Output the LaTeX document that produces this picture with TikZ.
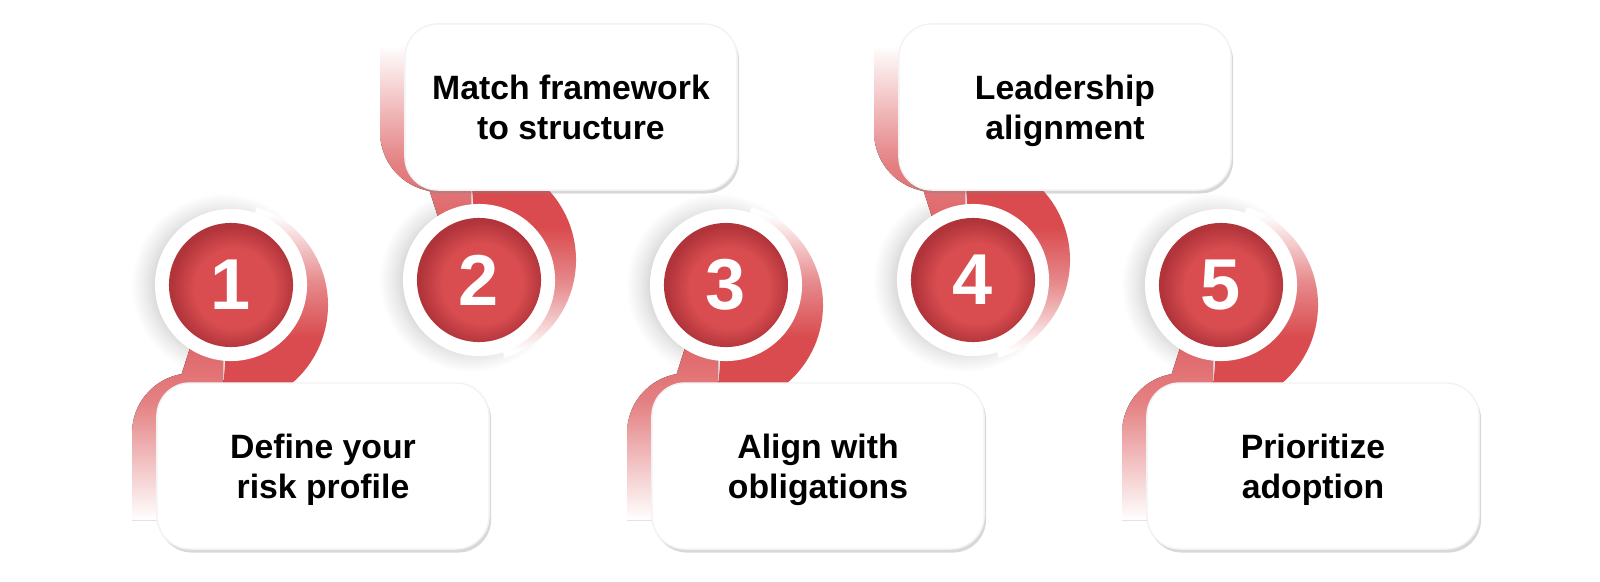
\documentclass[tikz,border=0pt]{standalone}
\usepackage{fontspec}
\setmainfont{Liberation Sans}
\usetikzlibrary{shadows}
\definecolor{ribred}{RGB}{217,75,78}
\definecolor{discred}{RGB}{217,77,80}
\definecolor{discdark}{RGB}{176,52,58}
\pgfdeclareradialshading{numdisc}{\pgfpoint{2bp}{-2bp}}{color(0bp)=(discred); color(16bp)=(discred); color(25bp)=(discdark); color(50bp)=(discdark)}
\pgfdeclareradialshading{ringhaze}{\pgfpoint{0bp}{0bp}}{color(0bp)=(black!16); color(18bp)=(black!16); color(21bp)=(black!8); color(25bp)=(white); color(50bp)=(white)}
\pgfdeclareverticalshading{arcup}{100bp}{color(0bp)=(ribred); color(40bp)=(ribred); color(55bp)=(ribred!65); color(65bp)=(ribred!30); color(73bp)=(white); color(100bp)=(white)}
\pgfdeclareverticalshading{arcdown}{100bp}{color(0bp)=(white); color(27bp)=(white); color(35bp)=(ribred!30); color(45bp)=(ribred!65); color(60bp)=(ribred); color(100bp)=(ribred)}

\begin{document}
\begin{tikzpicture}[x=0.01cm,y=0.01cm,
  ring/.style={circle,fill=white,minimum size=1.52cm,inner sep=0pt},
  disc/.style={circle,shade,shading=numdisc,minimum size=1.24cm,inner sep=0pt,text=white,font=\bfseries\fontsize{20.5}{20.5}\selectfont},
  stepbox/.style={rectangle,rounded corners=0.33cm,fill=white,draw=black!5,minimum width=3.32cm,minimum height=1.66cm,align=center,text=black,text depth=0pt,font=\bfseries\fontsize{9.6}{11.4}\selectfont,drop shadow={shadow xshift=0.02cm,shadow yshift=-0.035cm,opacity=0.3}},
  haze/.style={shade,shading=ringhaze},
  arcfadeup/.style={shade,shading=arcup},
  arcfadedown/.style={shade,shading=arcdown},
  tailfadedown/.style={top color=ribred,bottom color=white,middle color=ribred!70},
  tailfadeup/.style={top color=white,bottom color=ribred,middle color=ribred!70}]
\fill[white] (0,0) rectangle (1600,581);
\useasboundingbox (0,0) rectangle (1600,581);

% step 1
\begin{scope}[shift={(231,296)}]
\path[haze] (-8,0) circle[radius=92];
\path[arcfadeup] (-6,-20) ++(72:103) arc[start angle=72,end angle=-60,radius=103] -- (-8,-105) -- (0,0) -- cycle;
\fill[tailfadedown] (-8,-105) -- (-8,0) -- (-40,-60) -- (-49.4,-89) arc[start angle=100,end angle=180,radius=60] -- (-99,-235) -- (-60,-235) -- (-60,-105) -- cycle;
\end{scope}
\node[ring] (ring1) at (231,296) {};
\node[disc] (num1) at (ring1) {1};
\node[stepbox] (box1) at (323,115) {Define your\\risk profile};

% step 2
\begin{scope}[shift={(479,301)}]
\path[haze] (-8,0) circle[radius=92];
\path[arcfadedown] (-6,20) ++(-72:103) arc[start angle=-72,end angle=60,radius=103] -- (-8,105) -- (0,0) -- cycle;
\fill[tailfadeup] (-8,105) -- (-8,0) -- (-40,60) -- (-49.4,89) arc[start angle=-100,end angle=-180,radius=60] -- (-99,235) -- (-60,235) -- (-60,105) -- cycle;
\end{scope}
\node[ring] (ring2) at (479,301) {};
\node[disc] (num2) at (ring2) {2};
\node[stepbox] (box2) at (571,474) {Match framework\\to structure};

% step 3
\begin{scope}[shift={(726,296)}]
\path[haze] (-8,0) circle[radius=92];
\path[arcfadeup] (-6,-20) ++(72:103) arc[start angle=72,end angle=-60,radius=103] -- (-8,-105) -- (0,0) -- cycle;
\fill[tailfadedown] (-8,-105) -- (-8,0) -- (-40,-60) -- (-49.4,-89) arc[start angle=100,end angle=180,radius=60] -- (-99,-235) -- (-60,-235) -- (-60,-105) -- cycle;
\end{scope}
\node[ring] (ring3) at (726,296) {};
\node[disc] (num3) at (ring3) {3};
\node[stepbox] (box3) at (818,115) {Align with\\obligations};

% step 4
\begin{scope}[shift={(973,301)}]
\path[haze] (-8,0) circle[radius=92];
\path[arcfadedown] (-6,20) ++(-72:103) arc[start angle=-72,end angle=60,radius=103] -- (-8,105) -- (0,0) -- cycle;
\fill[tailfadeup] (-8,105) -- (-8,0) -- (-40,60) -- (-49.4,89) arc[start angle=-100,end angle=-180,radius=60] -- (-99,235) -- (-60,235) -- (-60,105) -- cycle;
\end{scope}
\node[ring] (ring4) at (973,301) {};
\node[disc] (num4) at (ring4) {4};
\node[stepbox] (box4) at (1065,474) {Leadership\\alignment};

% step 5
\begin{scope}[shift={(1221,296)}]
\path[haze] (-8,0) circle[radius=92];
\path[arcfadeup] (-6,-20) ++(72:103) arc[start angle=72,end angle=-60,radius=103] -- (-8,-105) -- (0,0) -- cycle;
\fill[tailfadedown] (-8,-105) -- (-8,0) -- (-40,-60) -- (-49.4,-89) arc[start angle=100,end angle=180,radius=60] -- (-99,-235) -- (-60,-235) -- (-60,-105) -- cycle;
\end{scope}
\node[ring] (ring5) at (1221,296) {};
\node[disc] (num5) at (ring5) {5};
\node[stepbox] (box5) at (1313,115) {Prioritize\\adoption};
\end{tikzpicture}
\end{document}
